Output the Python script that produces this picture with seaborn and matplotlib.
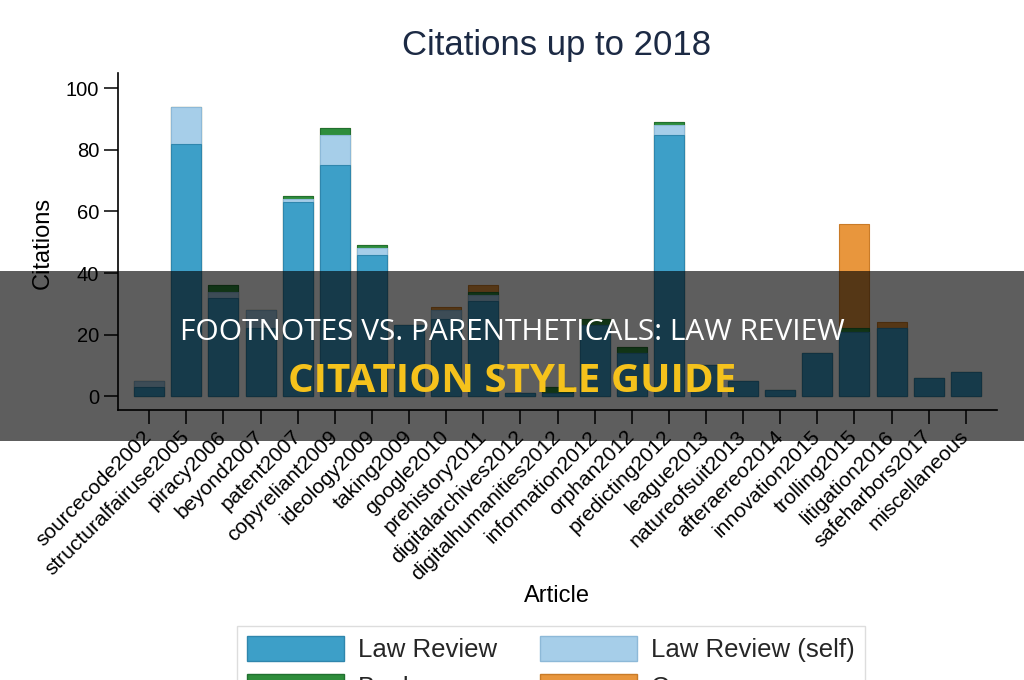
import matplotlib.pyplot as plt
import matplotlib
import numpy as np
import pandas as pd
import seaborn as sns
from matplotlib.patches import Patch, Rectangle

sns.set_style('ticks')
matplotlib.rcParams['font.family'] = ['Liberation Sans', 'DejaVu Sans']

# values
articles = ['sourcecode2002', 'structuralfairuse2005', 'piracy2006', 'beyond2007',
            'patent2007', 'copyreliant2009', 'ideology2009', 'taking2009',
            'google2010', 'prehistory2011', 'digitalarchives2012',
            'digitalhumanities2012', 'information2012', 'orphan2012',
            'predicting2012', 'league2013', 'natureofsuit2013', 'afteraereo2014',
            'innovation2015', 'trolling2015', 'litigation2016', 'safeharbors2017',
            'miscellaneous']
law_review = [3, 82, 32, 22, 63, 75, 46, 23, 25, 31, 1, 1, 23, 14, 85, 10, 5, 2, 14, 21, 22, 6, 8]
law_review_self = [2, 12, 2, 6, 1, 10, 2, 0, 3, 2, 0, 0, 0, 0, 3, 0, 0, 0, 0, 0, 0, 0, 0]
books = [0, 0, 2, 0, 1, 2, 1, 0, 0, 1, 0, 2, 2, 2, 1, 0, 0, 0, 0, 1, 0, 0, 0]
cases = [0, 0, 0, 0, 0, 0, 0, 0, 1, 2, 0, 0, 0, 0, 0, 0, 0, 0, 0, 34, 2, 0, 0]

series_names = ['Law Review', 'Law Review (self)', 'Books', 'Cases']
colors = ['#3d9fc8', '#a6cee9', '#2e8d3c', '#e8963d']
edges = ['#2f86ad', '#8db9d8', '#217030', '#c97b28']

df = pd.DataFrame({'article': articles, 'lr': law_review, 'self': law_review_self,
                   'books': books, 'cases': cases})
# stacked bars drawn as overlapping cumulative totals
df['lr_self'] = df.lr + df['self']
df['lr_books'] = df.lr_self + df.books
df['total'] = df.lr_books + df.cases

fig = plt.figure(figsize=(10.24, 6.8), dpi=100)
ax = fig.add_axes([118/1024, 1-410/680, 879/1024, 337/680])

layers = [('total', 3), ('lr_books', 2), ('lr_self', 1), ('lr', 0)]
for col, i in layers:
    sns.barplot(data=df, x='article', y=col, order=articles, color=colors[i],
                saturation=1, edgecolor=edges[i], linewidth=0.8, width=0.81,
                errorbar=None, ax=ax)

ax.set_xlim(-0.84, 22.84)
ax.set_ylim(-4.5, 105)
ax.set_yticks([0, 20, 40, 60, 80, 100])
ax.set_xlabel('')
ax.set_ylabel('')
sns.despine(ax=ax)
for s in ['left', 'bottom']:
    ax.spines[s].set_linewidth(1.2)
    ax.spines[s].set_color('black')
ax.tick_params(axis='both', length=10, width=1.1, color='black', labelsize=14.5, labelcolor='black')
ax.tick_params(axis='x', pad=7, labelsize=15)
plt.setp(ax.get_xticklabels(), rotation=45, ha='right', va='center', rotation_mode='anchor')

fig.text(557/1024, 1-45/680, 'Citations up to 2018', ha='center', va='center',
         fontsize=25, color='#1c2a44')
fig.text(43/1024, 1-243/680, 'Citations', ha='center', va='center', rotation=90,
         fontsize=17, color='black')
fig.text(557/1024, 1-596/680, 'Article', ha='center', va='center', fontsize=17, color='black')

handles = [Patch(facecolor=colors[i], edgecolor=edges[i], label=series_names[i]) for i in [0, 2, 1, 3]]
fig.legend(handles=handles, ncol=2, loc='upper left', bbox_to_anchor=(237/1024, 1-626/680),
           fontsize=18.5, handlelength=3.76, handleheight=1.1, columnspacing=1.67,
           handletextpad=0.55, labelspacing=0.45, frameon=True, fancybox=False,
           edgecolor='#dddddd', borderpad=0.4, borderaxespad=0, framealpha=1)

# dark banner with headline over the chart
fig.add_artist(Rectangle((0, 1-441/680), 1, 170/680, transform=fig.transFigure,
                         facecolor='black', alpha=0.63, edgecolor='none', zorder=10))
fig.text(0.5, 1-333/680, 'FOOTNOTES VS. PARENTHETICALS: LAW REVIEW', ha='center', va='center',
         fontsize=21.5, color='white', family=['Open Sans', 'DejaVu Sans'], zorder=11)
fig.text(0.5, 1-382/680, 'CITATION STYLE GUIDE', ha='center', va='center',
         fontsize=29, color='#f5c21c', fontweight='bold', family=['Open Sans', 'DejaVu Sans'], zorder=11)

fig.savefig('out.png', dpi=100)
